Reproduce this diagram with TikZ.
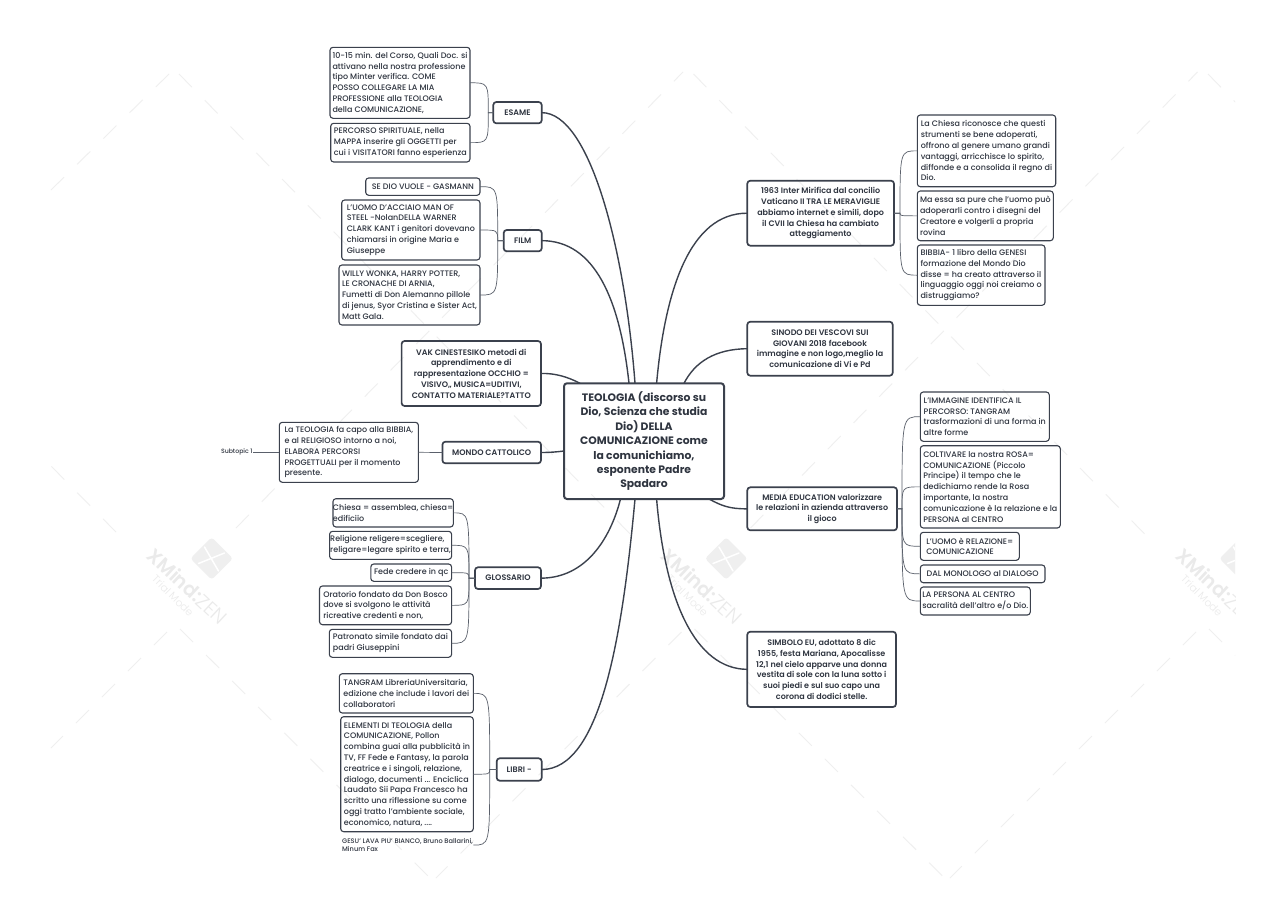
\documentclass[tikz,border=0pt]{standalone}
\usepackage{fontspec}
\setmainfont{Poppins Medium}[BoldFont={Poppins SemiBold}]
\newfontfamily\rootfont{Poppins}[BoldFont={Poppins Bold}]
\newfontfamily\lightfont{Poppins Light}
\usetikzlibrary{calc}
\definecolor{ink}{HTML}{2F3540}
\definecolor{edgec}{HTML}{3B414D}
\definecolor{thinc}{HTML}{5A606B}
\definecolor{wm}{HTML}{EFEFEF}
\definecolor{wmt}{HTML}{EAEAEA}
\tikzset{
  boxbase/.style={draw=edgec,rounded corners=3pt,outer sep=0pt,inner xsep=0pt,inner ysep=0pt,text=ink},
  subbox/.style={boxbase,line width=1.1pt,align=left,font=\fontsize{8}{10.8}\selectfont},
  mainbox/.style={boxbase,line width=1.7pt,align=center,font=\bfseries\fontsize{8}{10.8}\selectfont},
  rootbox/.style={boxbase,line width=2pt,align=center,font=\rootfont\bfseries\fontsize{10.8}{14.4}\selectfont},
  plaintext/.style={outer sep=0pt,inner sep=0pt,text=ink,align=left},
  mainline/.style={draw=edgec,line width=1.4pt},
  subline/.style={draw=thinc,line width=0.7pt},
  wmdash/.style={draw=wm,line width=0.9pt,dash pattern=on 18.4pt off 18.4pt},
}
\newcommand\bx[7][subbox]{%
  \pgfmathsetmacro\bxw{#5-#3}\pgfmathsetmacro\bxh{#6-#4}%
  \node[#1,minimum width=\bxw pt,minimum height=\bxh pt] (#2) at ({(#3+#5)/2},{(#4+#6)/2}) {#7};}
\newcommand\subL[3]{\coordinate (j) at ($(#1.west)+(-#3,0)$);
  \draw[subline] (#1.west) -- (j) .. controls (j |- #2.east) .. (#2.east);}
\newcommand\subR[3]{\coordinate (j) at ($(#1.east)+(#3,0)$);
  \draw[subline] (#1.east) -- (j) .. controls (j |- #2.west) .. (#2.west);}
\newcommand\wmark[2]{%
  \begin{scope}[shift={(#1,0)}]
  \node[fill=wm,rounded corners=3pt,minimum size=30pt,rotate=45,inner sep=0pt] (#2logo) at (211.7,558.5) {};
  \draw[white,line width=1.5pt,line cap=round] (204.5,547) -- (218.5,571) (198.5,563.5) -- (224.5,553);
  \node[rotate=-43,text=wmt,inner sep=0pt,font=\fontsize{19.5}{20}\selectfont] (#2name) at (187.5,586) {\textbf{XMind:}{\lightfont ZEN}};
  \node[rotate=-45,text=wmt,inner sep=0pt,font=\lightfont\fontsize{10.5}{11}\selectfont] (#2mode) at (173,596) {Trial Mode};
  \end{scope}}
\begin{document}
\begin{tikzpicture}[x=1pt,y=-1pt]
\useasboundingbox[fill=white] (0,0) rectangle (1280,905);
% watermark
\begin{scope}
\clip (0,0) rectangle (1235,905);
\wmark{0}{wa}\wmark{514.5}{wb}\wmark{1029}{wc}
\draw[wmdash] (169,74) -- (51,190);
\draw[wmdash] (116,532) -- (51,466);
\foreach \o in {0,514.5}{
  \draw[wmdash] ({179+\o},74) -- ({640+\o},544);
  \draw[wmdash] ({236+\o},528) -- ({683+\o},72);
}
\draw[wmdash] (1208,74) -- (1240,107);
\draw[wmdash] (167,632) -- (51,748);
\draw[wmdash] (180,629) -- (430,878);
\draw[wmdash] (681.5,632) -- (436,878);
\draw[wmdash] (694.5,629) -- (944.5,878);
\draw[wmdash] (1196,632) -- (950,878);
\draw[wmdash] (1209,629) -- (1240,660);
\end{scope}
% root
\bx[rootbox]{root}{564}{383.3}{724}{499}{TEOLOGIA (discorso su\\Dio, Scienza che studia\\Dio) DELLA\\COMUNICAZIONE come\\la comunichiamo,\\esponente Padre\\Spadaro}
% left main topics
\bx[mainbox]{esame}{493.3}{102}{541.7}{123.3}{ESAME}
\bx[mainbox]{film}{503.7}{230}{541.7}{251.3}{FILM}
\bx[mainbox]{vak}{401.6}{341}{541}{406}{VAK CINESTESIKO metodi di\\apprendimento e di\\rappresentazione OCCHIO =\\VISIVO,, MUSICA=UDITIVI,\\CONTATTO MATERIALE?TATTO}
\bx[mainbox]{mondo}{442.4}{441.7}{541}{463.3}{MONDO CATTOLICO}
\bx[mainbox]{gloss}{475}{567.3}{541}{589}{GLOSSARIO}
\bx[mainbox]{libri}{496.7}{758.3}{541.7}{780.7}{LIBRI -}
% right main topics
\bx[mainbox]{inter}{747.3}{180.7}{894}{245.7}{1963 Inter Mirifica dal concilio\\Vaticano II TRA LE MERAVIGLIE\\abbiamo internet e simili, dopo\\il CVII la Chiesa ha cambiato\\atteggiamento}
\bx[mainbox]{sinodo}{747.3}{321.7}{892.7}{375.7}{SINODO DEI VESCOVI SUI\\GIOVANI 2018 facebook\\immagine e non logo,meglio la\\comunicazione di Vi e Pd}
\bx[mainbox]{media}{747.3}{487.3}{897}{530.3}{MEDIA EDUCATION valorizzare\\le relazioni in azienda attraverso\\il gioco}
\bx[mainbox]{simbolo}{747.3}{631.7}{896}{707}{SIMBOLO EU, adottato 8 dic\\1955, festa Mariana, Apocalisse\\12,1 nel cielo apparve una donna\\vestita di sole con la luna sotto i\\suoi piedi e sul suo capo una\\corona di dodici stelle.}
% subtopics
\bx{ea}{330}{47.3}{470}{118.3}{10-15 min. del Corso, Quali Doc. si\\attivano nella nostra professione\\tipo Minter verifica. COME\\POSSO COLLEGARE LA MIA\\PROFESSIONE alla TEOLOGIA\\della COMUNICAZIONE,}
\bx{eb}{330.7}{123.3}{470}{162}{PERCORSO SPIRITUALE, nella\\MAPPA inserire gli OGGETTI per\\cui i VISITATORI fanno esperienza}
\bx{fa}{365.7}{178}{480}{195.3}{SE DIO VUOLE - GASMANN}
\bx{fb}{341.7}{200}{480}{260}{L'UOMO D'ACCIAIO MAN OF\\STEEL -NolanDELLA WARNER\\CLARK KANT i genitori dovevano\\chiamarsi in origine Maria e\\Giuseppe}
\bx{fc}{339}{265}{480}{325}{WILLY WONKA, HARRY POTTER,\\LE CRONACHE DI ARNIA,\\Fumetti di Don Alemanno pillole\\di jenus, Syor Cristina e Sister Act,\\Matt Gala.}
\bx{ma}{279.3}{422.3}{418.4}{482.3}{La TEOLOGIA fa capo alla BIBBIA,\\e al RELIGIOSO intorno a noi,\\ELABORA PERCORSI\\PROGETTUALI per il momento\\presente.}
\node[plaintext,anchor=east,font=\fontsize{6.2}{7}\selectfont] (subt) at (252.6,452.3) {Subtopic 1};
\bx{ga}{334.7}{498.7}{451.6}{527}{Chiesa = assemblea, chiesa=\\edificiio}
\bx{gb}{329.6}{531.3}{451.6}{559.3}{Religione religere=scegliere,\\religare=legare spirito e terra,}
\bx{gc}{370.8}{564}{451.6}{581.3}{Fede credere in qc}
\bx{gd}{319.5}{586}{451.6}{624.7}{Oratorio fondato da Don Bosco\\dove si svolgono le attività\\ricreative credenti e non,}
\bx{ge}{329.3}{629.3}{451.6}{657.3}{Patronato simile fondato dai\\padri Giuseppini}
\bx{la}{339.3}{673.7}{473.3}{713}{TANGRAM LibreriaUniversitaria,\\edizione che include i lavori dei\\collaboratori}
\bx{lb}{340.7}{716.7}{473.3}{831.7}{ELEMENTI DI TEOLOGIA della\\COMUNICAZIONE, Pollon\\combina guai alla pubblicità in\\TV, FF Fede e Fantasy, la parola\\creatrice e i singoli, relazione,\\dialogo, documenti ... Enciclica\\Laudato Sii Papa Francesco ha\\scritto una riflessione su come\\oggi tratto l'ambiente sociale,\\economico, natura, ....}
\node[plaintext,anchor=north west,minimum width=131.6pt,font=\fontsize{6.6}{8}\selectfont] (lc) at (341.7,838.5) {GESU' LAVA PIU' BIANCO, Bruno Ballarini,\\Minum Fax};
\bx{ia}{917.3}{115}{1055.7}{186.7}{La Chiesa riconosce che questi\\strumenti se bene adoperati,\\offrono al genere umano grandi\\vantaggi, arricchisce lo spirito,\\diffonde e a consolida il regno di\\Dio.}
\bx{ib}{917.3}{191}{1053.3}{240.7}{Ma essa sa pure che l'uomo può\\adoperarli contro i disegni del\\Creatore e volgerli a propria\\rovina}
\bx{ic}{917.3}{245}{1045}{305.3}{BIBBIA- 1 libro della GENESI\\formazione del Mondo Dio\\disse = ha creato attraverso il\\linguaggio oggi noi creiamo o\\distruggiamo?}
\bx{da}{920.3}{392}{1049.3}{441.3}{L'IMMAGINE IDENTIFICA IL\\PERCORSO: TANGRAM\\trasformazioni di una forma in\\altre forme}
\bx{db}{920.3}{445.7}{1060.3}{528}{COLTIVARE la nostra ROSA=\\COMUNICAZIONE (Piccolo\\Principe) il tempo che le\\dedichiamo rende la Rosa\\importante, la nostra\\comunicazione è la relazione e la\\PERSONA al CENTRO}
\bx{dc}{920.3}{532.3}{1019.3}{560.3}{L'UOMO è RELAZIONE=\\COMUNICAZIONE}
\bx{dd}{920.3}{565}{1045}{582.7}{DAL MONOLOGO al DIALOGO}
\bx{de}{920.3}{587}{1030.3}{615}{LA PERSONA AL CENTRO\\sacralità dell'altro e/o Dio.}
% root attachment points
\coordinate (rE) at (635,383.3);
\coordinate (rF) at (629,383.3);
\coordinate (rV) at (580,383.3);
\coordinate (rM) at (564,451);
\coordinate (rG) at (620.5,499);
\coordinate (rL) at (635,499);
\coordinate (rI) at (656.6,383.3);
\coordinate (rS) at (684,383.3);
\coordinate (rD) at (709,499);
\coordinate (rY) at (656.6,499);
% main connectors
\draw[mainline] (esame.east) .. controls (590,112.7) and (625,250) .. (rE);
\draw[mainline] (film.east) .. controls (595,240.7) and (620,300) .. (rF);
\draw[mainline] (vak.east) .. controls (555,373) and (568,377) .. (rV);
\draw[mainline] (mondo.east) .. controls (550,452.5) and (556,452) .. (rM);
\draw[mainline] (gloss.east) .. controls (585,578) and (610,540) .. (rG);
\draw[mainline] (libri.east) .. controls (600,769.5) and (622,640) .. (rL);
\draw[mainline] (inter.west) .. controls (690,213) and (665,290) .. (rI);
\draw[mainline] (sinodo.west) .. controls (715,349) and (695,362) .. (rS);
\draw[mainline] (media.west) .. controls (730,509) and (722,506) .. (rD);
\draw[mainline] (simbolo.west) .. controls (695,669) and (665,600) .. (rY);
% sub connectors
\subL{esame}{ea}{5}\subL{esame}{eb}{5}
\subL{film}{fa}{6}\subL{film}{fb}{6}\subL{film}{fc}{6}
\draw[subline] (mondo.west) -- (ma.east);
\draw[subline] (ma.west) -- (subt.east);
\subL{gloss}{ga}{6}\subL{gloss}{gb}{6}\subL{gloss}{gc}{6}\subL{gloss}{gd}{6}\subL{gloss}{ge}{6}
\subL{libri}{la}{7}\subL{libri}{lb}{7}\subL{libri}{lc}{7}
\subR{inter}{ia}{6}\subR{inter}{ib}{6}\subR{inter}{ic}{6}
\subR{media}{da}{5}\subR{media}{db}{5}\subR{media}{dc}{5}\subR{media}{dd}{5}\subR{media}{de}{5}
\end{tikzpicture}
\end{document}
